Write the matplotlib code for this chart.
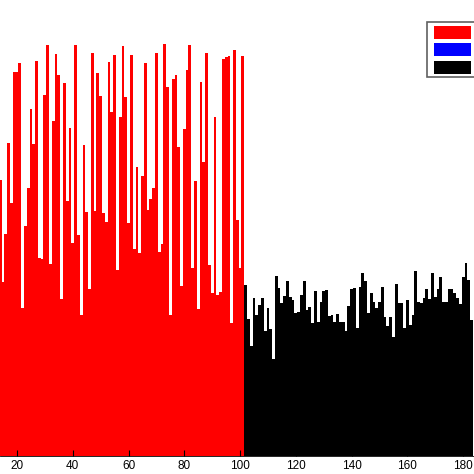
# Histogram-style bar chart, cropped view (bins ~14..183)

import numpy as np
import matplotlib.pyplot as plt
from matplotlib.patches import Patch
from matplotlib.legend_handler import HandlerPatch

plt.rcParams['font.family'] = ['Liberation Sans', 'DejaVu Sans']

# bar heights (arbitrary units, baseline = 0)
red_first = 14
red_vals = [276, 174, 222, 313, 253, 384, 384, 393, 148, 230,
            268, 347, 312, 395, 198, 197, 361, 411, 192, 335,
            402, 381, 157, 373, 255, 328, 213, 411, 221, 141,
            311, 244, 167, 403, 245, 383, 360, 243, 234, 394,
            344, 401, 186, 339, 410, 359, 233, 401, 207, 289,
            203, 280, 393, 246, 257, 268, 403, 204, 212, 412,
            369, 141, 377, 381, 309, 170, 327, 386, 411, 188,
            275, 147, 374, 294, 403, 191, 163, 339, 161, 164,
            397, 399, 400, 133, 406, 236, 188, 400]

black_first = 102
black_vals = [171, 137, 110, 158, 141, 151, 158, 125, 148, 127,
              97, 180, 168, 153, 160, 175, 159, 156, 143, 144,
              161, 175, 146, 149, 133, 165, 134, 154, 165, 166,
              140, 141, 134, 142, 134, 134, 125, 150, 167, 168,
              128, 169, 183, 175, 143, 163, 154, 148, 154, 169,
              139, 130, 139, 119, 172, 153, 153, 128, 156, 131,
              141, 185, 154, 153, 158, 167, 157, 183, 159, 167,
              179, 154, 154, 167, 167, 163, 158, 152, 179, 193,
              176, 136]

xticks = [20, 40, 60, 80, 100, 120, 140, 160, 180]
legend_colors = ['#ff0000', '#0000ff', '#000000']

fig = plt.figure(figsize=(4.74, 4.74), dpi=100)
ax = fig.add_axes([0, 18 / 474, 1, 456 / 474])

x_red = np.arange(len(red_vals)) + red_first
x_black = np.arange(len(black_vals)) + black_first
ax.bar(x_red, red_vals, width=1.0, color='#ff0000', linewidth=0)
ax.bar(x_black, black_vals, width=1.0, color='#000000', linewidth=0)

ax.set_xlim(13.9, 183.9)
ax.set_ylim(0, 456)
ax.set_xticks(xticks)
ax.set_yticks([])
ax.tick_params(axis='x', direction='in', length=4, labelsize=8.5, pad=3)
for s in ['left', 'right', 'top']:
    ax.spines[s].set_visible(False)
ax.spines['bottom'].set_linewidth(0.6)

# legend: labels fall outside the cropped picture, only the swatches show
handles = [Patch(facecolor=c, edgecolor='none') for c in legend_colors]
leg = ax.legend(handles, ['', '', ''], loc='upper left',
                bbox_to_anchor=(427 / 474, 1 - 22 / 474),
                bbox_transform=fig.transFigure,
                handler_map={Patch: HandlerPatch(xpad=0.16)},
                fontsize=13.37, handlelength=2.154, handleheight=0.7,
                labelspacing=0.242, borderpad=0.195, borderaxespad=0,
                handletextpad=0.5, fancybox=False, framealpha=1)
for t in leg.get_texts():
    t.set_fontsize(1)
leg.get_frame().set_edgecolor('#606060')
leg.get_frame().set_linewidth(1.2)

fig.savefig('out.png', dpi=100)
